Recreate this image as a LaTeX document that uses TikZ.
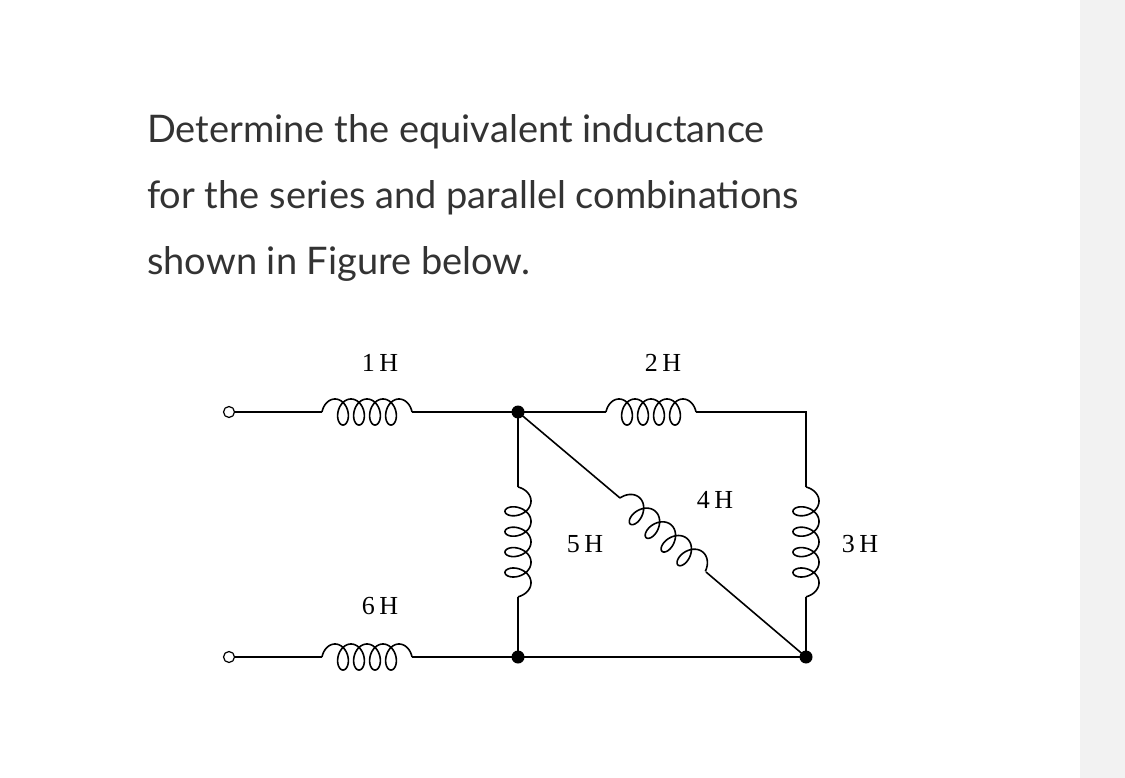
\documentclass[tikz,border=0pt]{standalone}
\usepackage{fontspec}
\setmainfont{Lato}
\newfontfamily\circfont{Liberation Serif}
\begin{document}
\begin{tikzpicture}[x=1pt,y=1pt,
  wire/.style={line width=1.6pt},
  lbl/.style={font=\circfont\fontsize{26}{26}\selectfont,inner sep=0pt},
  dotn/.style={circle,fill=black,inner sep=0pt,minimum size=13pt},
  term/.style={circle,draw,line width=1.2pt,fill=white,inner sep=0pt,minimum size=11pt}]
\useasboundingbox (0,0) rectangle (1125,-778);
\fill[white] (0,0) rectangle (1125,-778);
\fill[black!5] (1080,0) rectangle (1125,-778);
\node[anchor=base west,inner sep=0pt,font=\fontsize{38}{38}\selectfont,text=black!80] (t1) at (147,-143) {Determine the equivalent inductance};
\node[anchor=base west,inner sep=0pt,font=\fontsize{38}{38}\selectfont,text=black!80] (t2) at (147,-209) {for the series and parallel combinations};
\node[anchor=base west,inner sep=0pt,font=\fontsize{38}{38}\selectfont,text=black!80] (t3) at (147,-275) {shown in Figure below.};
\coordinate (A) at (518,-412);
\coordinate (B) at (518,-657);
\coordinate (C) at (806,-657);
\coordinate (D) at (806,-412);
\coordinate (c1a) at (322,-412); \coordinate (c1b) at (412,-412);
\coordinate (c2a) at (606,-412); \coordinate (c2b) at (696,-412);
\coordinate (c6a) at (322,-657); \coordinate (c6b) at (412,-657);
\coordinate (c5a) at (518,-487); \coordinate (c5b) at (518,-597);
\coordinate (c3a) at (806,-487); \coordinate (c3b) at (806,-597);
\coordinate (c4a) at (620,-498); \coordinate (c4b) at (706,-572);
\def\coilplot#1{plot[variable=\t,domain=90:1710,samples=300] ({#1*((\t-90)/360)-9*sin(\t)+9},{-13*cos(\t)})}
\begin{scope}[wire]
\draw[shift={(c1a)}] \coilplot{16};
\draw[shift={(c2a)}] \coilplot{16};
\draw[shift={(c6a)}] \coilplot{16};
\draw[shift={(c5a)},rotate=-90] \coilplot{20.4};
\draw[shift={(c3a)},rotate=-90] \coilplot{20.4};
\draw[shift={(c4a)},rotate=-40.7] \coilplot{21};
\end{scope}
\node[term] (T1) at (229,-412) {};
\node[term] (T2) at (229,-657) {};
\draw[wire] (T1) -- (c1a) (c1b) -- (A) -- (c2a) (c2b) -- (D) -- (c3a) (c3b) -- (C);
\draw[wire] (T2) -- (c6a) (c6b) -- (B) -- (C);
\draw[wire] (A) -- (c5a) (c5b) -- (B);
\draw[wire] (A) -- (c4a) (c4b) -- (C);
\node[dotn] at (A) {};
\node[dotn] at (B) {};
\node[dotn] at (C) {};
\node[lbl] (l1) at (380,-363) {1\,H};
\node[lbl] (l2) at (663,-363) {2\,H};
\node[lbl] (l6) at (380,-606) {6\,H};
\node[lbl] (l5) at (585,-544) {5\,H};
\node[lbl] (l4) at (715,-500) {4\,H};
\node[lbl] (l3) at (860,-544) {3\,H};
\end{tikzpicture}
\end{document}
